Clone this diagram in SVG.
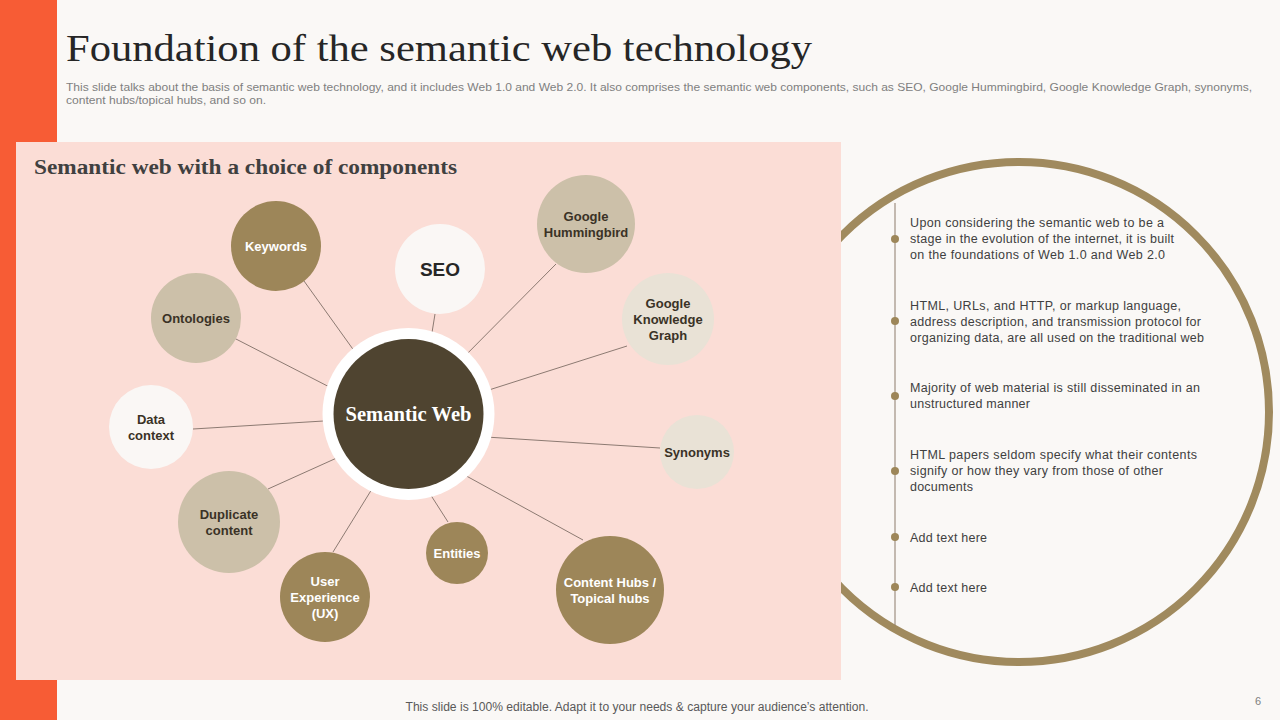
<svg xmlns="http://www.w3.org/2000/svg" width="1280" height="720" viewBox="0 0 1280 720">
<style>
.sans{font-family:"Liberation Sans",Arial,sans-serif}
.serif{font-family:"Liberation Serif","Times New Roman",serif}
.nt{font-family:"Liberation Sans",Arial,sans-serif;font-size:13px;font-weight:bold;text-anchor:middle;fill:#3a3226}
.nw{font-family:"Liberation Sans",Arial,sans-serif;font-size:13px;font-weight:bold;text-anchor:middle;fill:#ffffff}
.bt{font-family:"Liberation Sans",Arial,sans-serif;font-size:12.5px;fill:#404040}
.dot{fill:#9D8659}
.conn line{stroke:#8C7A72;stroke-width:1}
</style>
<rect x="0" y="0" width="1280" height="720" fill="#FAF8F6"/>
<rect x="0" y="0" width="57" height="720" fill="#F75C35"/>
<text x="66" y="61" class="serif" font-size="38" fill="#262626" textLength="746" lengthAdjust="spacingAndGlyphs">Foundation of the semantic web technology</text>
<text class="sans" font-size="11" fill="#7F7F7F">
<tspan x="66" y="91" textLength="1186" lengthAdjust="spacingAndGlyphs">This slide talks about the basis of semantic web technology, and it includes Web 1.0 and Web 2.0. It also comprises the semantic web components, such as SEO, Google Hummingbird, Google Knowledge Graph, synonyms,</tspan>
<tspan x="66" y="104" textLength="200" lengthAdjust="spacingAndGlyphs">content hubs/topical hubs, and so on.</tspan>
</text>
<g id="info-ring">
<circle cx="1019" cy="412" r="250" fill="none" stroke="#A08A5E" stroke-width="8"/>
</g>
<rect x="16" y="142" width="825" height="538" fill="#FBDDD6"/>
<text x="34" y="174" class="serif" font-size="20.5" font-weight="bold" fill="#404040" textLength="423" lengthAdjust="spacingAndGlyphs">Semantic web with a choice of components</text>
<g id="connectors" class="conn">
<line x1="304" y1="281" x2="365" y2="366"/>
<line x1="435" y1="314" x2="430" y2="345"/>
<line x1="556" y1="264" x2="455" y2="366"/>
<line x1="627" y1="346" x2="470" y2="396"/>
<line x1="660" y1="448" x2="470" y2="436"/>
<line x1="583" y1="540" x2="450" y2="467"/>
<line x1="448" y1="522" x2="425" y2="486"/>
<line x1="333" y1="552" x2="380" y2="476"/>
<line x1="268" y1="489" x2="350" y2="452"/>
<line x1="193" y1="429" x2="340" y2="420"/>
<line x1="234" y1="338" x2="345" y2="395"/>
</g>
<g id="semantic-web">
<circle cx="408.5" cy="414" r="86" fill="#FFFFFF"/>
<circle cx="408.5" cy="414" r="75" fill="#4F4430"/>
<text x="408.5" y="421" class="serif" font-size="20" font-weight="bold" fill="#FFFFFF" text-anchor="middle" textLength="126" lengthAdjust="spacingAndGlyphs">Semantic Web</text>
</g>
<g id="keywords">
<circle cx="276" cy="246" r="45" fill="#9D8659"/>
<text x="276" y="251" class="nw">Keywords</text>
</g>
<g id="seo">
<circle cx="440" cy="269" r="45" fill="#FAF7F5"/>
<text x="440" y="276" class="sans" font-size="19" font-weight="bold" fill="#262626" text-anchor="middle">SEO</text>
</g>
<g id="hummingbird">
<circle cx="586" cy="224" r="49" fill="#CCC0A9"/>
<text class="nt"><tspan x="586" y="221">Google</tspan><tspan x="586" y="237">Hummingbird</tspan></text>
</g>
<g id="knowledge-graph">
<circle cx="668" cy="319" r="46" fill="#E9E2D6"/>
<text class="nt"><tspan x="668" y="308">Google</tspan><tspan x="668" y="324">Knowledge</tspan><tspan x="668" y="340">Graph</tspan></text>
</g>
<g id="ontologies">
<circle cx="196" cy="318" r="45" fill="#CCC0A9"/>
<text x="196" y="323" class="nt">Ontologies</text>
</g>
<g id="data-context">
<circle cx="151" cy="427" r="42" fill="#FAF7F5"/>
<text class="nt"><tspan x="151" y="424">Data</tspan><tspan x="151" y="440">context</tspan></text>
</g>
<g id="synonyms">
<circle cx="697" cy="452" r="37" fill="#E9E2D6"/>
<text x="697" y="457" class="nt">Synonyms</text>
</g>
<g id="duplicate-content">
<circle cx="229" cy="522" r="51" fill="#CCC0A9"/>
<text class="nt"><tspan x="229" y="519">Duplicate</tspan><tspan x="229" y="535">content</tspan></text>
</g>
<g id="user-experience">
<circle cx="325" cy="597" r="45" fill="#9D8659"/>
<text class="nw"><tspan x="325" y="586">User</tspan><tspan x="325" y="602">Experience</tspan><tspan x="325" y="618">(UX)</tspan></text>
</g>
<g id="entities">
<circle cx="457" cy="553" r="31" fill="#9D8659"/>
<text x="457" y="558" class="nw">Entities</text>
</g>
<g id="content-hubs">
<circle cx="610" cy="590" r="54" fill="#9D8659"/>
<text class="nw"><tspan x="610" y="587">Content Hubs /</tspan><tspan x="610" y="603">Topical hubs</tspan></text>
</g>
<g id="timeline">
<line x1="895" y1="203" x2="895" y2="625" stroke="#8C7A6B" stroke-width="1"/>
<circle class="dot" cx="895" cy="239" r="4"/>
<circle class="dot" cx="895" cy="321" r="4"/>
<circle class="dot" cx="895" cy="396" r="4"/>
<circle class="dot" cx="895" cy="471" r="4"/>
<circle class="dot" cx="895" cy="537" r="4"/>
<circle class="dot" cx="895" cy="587" r="4"/>
<text class="bt"><tspan x="910" y="227" textLength="254">Upon considering the semantic web to be a</tspan><tspan x="910" y="243" textLength="264">stage in the evolution  of the internet, it is built</tspan><tspan x="910" y="259" textLength="255">on the foundations  of Web 1.0 and Web 2.0</tspan></text>
<text class="bt"><tspan x="910" y="310" textLength="271">HTML, URLs, and HTTP, or markup language,</tspan><tspan x="910" y="326" textLength="291">address description, and transmission protocol for</tspan><tspan x="910" y="342" textLength="294">organizing data, are all used on the traditional web</tspan></text>
<text class="bt"><tspan x="910" y="392" textLength="290">Majority of web material is still disseminated in an</tspan><tspan x="910" y="408" textLength="120">unstructured manner</tspan></text>
<text class="bt"><tspan x="910" y="459" textLength="287">HTML papers seldom specify what their contents</tspan><tspan x="910" y="475" textLength="253">signify or how they vary from those of other</tspan><tspan x="910" y="491" textLength="63">documents</tspan></text>
<text class="bt" x="910" y="542" textLength="77">Add text here</text>
<text class="bt" x="910" y="592" textLength="77">Add text here</text>
</g>
<text x="637" y="711" class="sans" font-size="12" fill="#595959" text-anchor="middle" textLength="463" lengthAdjust="spacingAndGlyphs">This slide is 100% editable. Adapt it to your needs &amp; capture your audience’s attention.</text>
<text x="1258" y="705" class="sans" font-size="11" fill="#7F7F7F" text-anchor="middle">6</text>
</svg>
